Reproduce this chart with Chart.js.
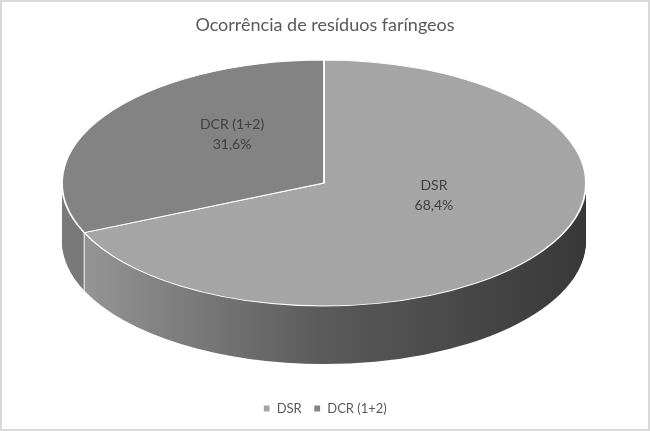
<!DOCTYPE html>
<html>
<head>
<meta charset="utf-8">
<script src="https://cdn.jsdelivr.net/npm/chart.js@4"></script>
<style>
  html, body { margin: 0; padding: 0; background: #fff; }
  canvas { display: block; }
</style>
</head>
<body>
<canvas id="pieChart" width="650" height="431"></canvas>
<script>
// chart data
const chartTitle = "Ocorrência de resíduos faríngeos";
const categories = ["DSR", "DCR (1+2)"];
const percentages = [68.4, 31.6];

// look of the flattened 3D pie (screen pixels)
const EX = 324, EY = 183, RX = 262, RY = 123, DEPTH = 58;
const FONT = "Lato, 'Open Sans', sans-serif";

function sideGradient(ctx, i) {
  const g = ctx.createLinearGradient(EX - RX, 0, EX + RX, 0);
  if (i === 0) {
    g.addColorStop(0, "#9a9a9a");
    g.addColorStop(0.5, "#5a5a5a");
    g.addColorStop(1, "#383838");
  } else {
    g.addColorStop(0, "#7a7a7a");
    g.addColorStop(1, "#4a4a4a");
  }
  return g;
}

function pctText(v) {
  return v.toFixed(1).replace(".", ",") + "%";
}

const pie3d = {
  id: "pie3d",
  beforeDraw(chart) {
    const ctx = chart.ctx;
    ctx.save();
    ctx.strokeStyle = "#d9d9d9";
    ctx.lineWidth = 2;
    ctx.strokeRect(1, 1, chart.width - 2, chart.height - 2);
    ctx.restore();
  },
  beforeDatasetsDraw(chart) {
    const ctx = chart.ctx;
    const arcs = chart.getDatasetMeta(0).data;
    const a0 = arcs[0];
    const sx = RX / a0.outerRadius, sy = RY / a0.outerRadius;

    // side of the pie, stacked from the bottom up
    for (let d = DEPTH; d >= 1; d--) {
      arcs.forEach((arc, i) => {
        ctx.save();
        ctx.setTransform(sx, 0, 0, sy, EX - a0.x * sx, EY + d - a0.y * sy);
        ctx.beginPath();
        ctx.moveTo(arc.x, arc.y);
        ctx.arc(arc.x, arc.y, arc.outerRadius, arc.startAngle, arc.endAngle);
        ctx.closePath();
        ctx.setTransform(1, 0, 0, 1, 0, 0);
        ctx.fillStyle = sideGradient(ctx, i);
        ctx.fill();
        ctx.restore();
      });
    }

    // white seams on the side where slices meet at the front
    ctx.save();
    ctx.strokeStyle = "#ffffff";
    ctx.lineWidth = 1;
    arcs.forEach((arc) => {
      const a = arc.startAngle;
      if (Math.sin(a) > 0) {
        const px = EX + RX * Math.cos(a);
        const py = EY + RY * Math.sin(a);
        ctx.beginPath();
        ctx.moveTo(px, py);
        ctx.lineTo(px, py + DEPTH);
        ctx.stroke();
      }
    });
    ctx.restore();

    // top face drawn by the library, squashed into the ellipse
    ctx.save();
    ctx.setTransform(sx, 0, 0, sy, EX - a0.x * sx, EY - a0.y * sy);
  },
  afterDatasetsDraw(chart) {
    chart.ctx.restore();
  },
  afterDraw(chart) {
    const ctx = chart.ctx;
    const arcs = chart.getDatasetMeta(0).data;
    ctx.save();
    ctx.fillStyle = "#404040";
    ctx.font = "14px " + FONT;
    ctx.textAlign = "center";
    ctx.textBaseline = "middle";
    arcs.forEach((arc, i) => {
      const mid = (arc.startAngle + arc.endAngle) / 2;
      const x = EX + RX * 0.46 * Math.cos(mid) + 9;
      const y = EY + RY * 0.46 * Math.sin(mid) - 18;
      ctx.fillText(categories[i], x, y - 10);
      ctx.fillText(pctText(percentages[i]), x, y + 10);
    });
    ctx.restore();
  }
};

const ctx = document.getElementById("pieChart").getContext("2d");
const myChart = new Chart(ctx, {
  type: "pie",
  data: {
    labels: categories,
    datasets: [
      {
        data: percentages,
        backgroundColor: ["#a5a5a5", "#838383"],
        borderColor: "#ffffff",
        borderWidth: 1.2,
        clip: false,
      },
    ],
  },
  options: {
    responsive: false,
    animation: false,
    layout: { padding: { bottom: 6 } },
    plugins: {
      title: {
        display: true,
        text: chartTitle,
        color: "#595959",
        font: { family: FONT, size: 18, weight: "normal" },
        padding: { top: 14, bottom: 10 },
      },
      legend: {
        position: "bottom",
        labels: {
          boxWidth: 7,
          boxHeight: 7,
          color: "#595959",
          font: { family: FONT, size: 13 },
          padding: 12,
        },
      },
      tooltip: { enabled: false },
    },
  },
  plugins: [pie3d],
});
</script>
</body>
</html>
